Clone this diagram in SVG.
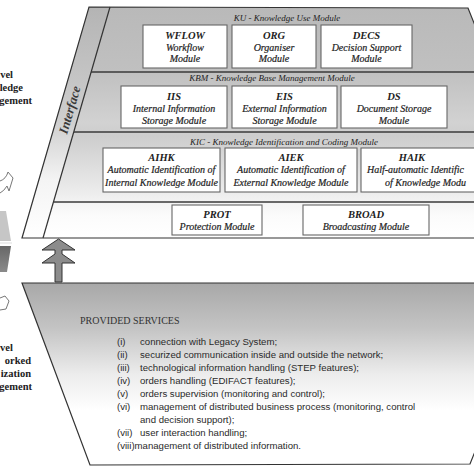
<svg xmlns="http://www.w3.org/2000/svg" width="474" height="474" viewBox="0 0 474 474">
<defs>
<linearGradient id="gTop" x1="0" y1="7" x2="0" y2="238" gradientUnits="userSpaceOnUse">
<stop offset="0" stop-color="#b9b9b9"/>
<stop offset="0.28" stop-color="#c0c0c0"/>
<stop offset="0.5" stop-color="#d2d2d2"/>
<stop offset="0.56" stop-color="#cdcdcd"/>
<stop offset="0.8" stop-color="#ececec"/>
<stop offset="0.9" stop-color="#fbfbfb"/>
<stop offset="1" stop-color="#ffffff"/>
</linearGradient>
<linearGradient id="gIface" x1="0" y1="7" x2="0" y2="238" gradientUnits="userSpaceOnUse">
<stop offset="0" stop-color="#b4b4b4"/>
<stop offset="0.5" stop-color="#cfcfcf"/>
<stop offset="0.75" stop-color="#f4f4f4"/>
<stop offset="1" stop-color="#ffffff"/>
</linearGradient>
<linearGradient id="gBot" x1="0" y1="283" x2="0" y2="465" gradientUnits="userSpaceOnUse">
<stop offset="0" stop-color="#a8a8a8"/>
<stop offset="0.25" stop-color="#c4c4c4"/>
<stop offset="0.5" stop-color="#ececec"/>
<stop offset="0.7" stop-color="#ffffff"/>
<stop offset="1" stop-color="#ffffff"/>
</linearGradient>
<linearGradient id="gDark" x1="0" y1="245" x2="0" y2="272" gradientUnits="userSpaceOnUse">
<stop offset="0" stop-color="#666"/>
<stop offset="1" stop-color="#8a8a8a"/>
</linearGradient>
<style>
.outline{fill:none;stroke:#333;stroke-width:1.2}
.div{stroke:#3a3a3a;stroke-width:1.6}
.box{fill:#fff;stroke:#666;stroke-width:1.1}
.acr{font-family:"Liberation Serif",serif;font-style:italic;font-weight:bold;font-size:10.5px;fill:#222;text-anchor:middle}
.desc{font-family:"Liberation Serif",serif;font-style:italic;font-size:10px;fill:#222;stroke:#222;stroke-width:0.2;text-anchor:middle}
.desc.start{text-anchor:start}
.ttl{font-family:"Liberation Serif",serif;font-style:italic;font-size:9px;fill:#222;text-anchor:middle}
.side{font-family:"Liberation Serif",serif;font-weight:bold;font-size:10.5px;fill:#222}
.svc{font-family:"Liberation Sans",sans-serif;font-size:9.6px;fill:#2a2a2a}
</style>
</defs>

<g id="left-fragments">
<path d="M0,181 Q6,179 8,172 L13,178 L9,191 L7,186 Q4,191 0,193" fill="#fff" stroke="#777" stroke-width="1"/>
<polygon points="0,211 6,211 11,241 0,241" fill="#c6c6c6"/>
<line x1="0" y1="243" x2="12" y2="243" stroke="#ddd" stroke-width="1"/>
<polygon points="0,246 11,246 7,272 0,272" fill="url(#gDark)"/>
<path d="M0,298 L5,296 L9,301 L6,309 L0,310" fill="#fff" stroke="#777" stroke-width="1"/>
<text class="side" x="13" y="78" text-anchor="end">vel</text>
<text class="side" x="23" y="91" text-anchor="end">ledge</text>
<text class="side" x="32" y="104" text-anchor="end">gement</text>
<text class="side" x="0" y="351">vel</text>
<text class="side" x="31" y="364" text-anchor="end">orked</text>
<text class="side" x="31" y="377" text-anchor="end">ization</text>
<text class="side" x="32" y="390" text-anchor="end">gement</text>
</g>

<g id="top-frame">
<polygon points="89,7 468,8 476,28 476,238 22,238" fill="url(#gTop)"/>
<polygon points="89,7 110,7 43,238 22,238" fill="url(#gIface)"/>
<polyline class="outline" points="476,28 468,8 89,7 22,238 476,238"/>
<line class="outline" x1="110" y1="7" x2="43" y2="238"/>
<line class="div" x1="91" y1="72" x2="476" y2="72"/>
<line class="div" x1="74" y1="132" x2="476" y2="132"/>
<line class="div" x1="54" y1="202" x2="476" y2="202"/>
<text transform="translate(70,110) rotate(-73.8)" y="4" text-anchor="middle" font-family="Liberation Serif, serif" font-style="italic" font-weight="bold" font-size="13" fill="#3a3a3a">Interface</text>
</g>

<g id="KU">
<text class="ttl" x="287" y="21">KU - Knowledge Use Module</text>
<g id="WFLOW"><rect class="box" x="143" y="25" width="84" height="43"/><text class="acr" x="185" y="38.5">WFLOW</text><text class="desc" x="185" y="50.5">Workflow</text><text class="desc" x="185" y="62">Module</text></g>
<g id="ORG"><rect class="box" x="232" y="25" width="84" height="43"/><text class="acr" x="274" y="38.5">ORG</text><text class="desc" x="274" y="50.5">Organiser</text><text class="desc" x="274" y="62">Module</text></g>
<g id="DECS"><rect class="box" x="321" y="25" width="91" height="43"/><text class="acr" x="366.5" y="38.5">DECS</text><text class="desc" x="366.5" y="50.5">Decision Support</text><text class="desc" x="366.5" y="62">Module</text></g>
</g>

<g id="KBM">
<text class="ttl" x="272" y="81">KBM - Knowledge Base Management Module</text>
<g id="IIS"><rect class="box" x="121" y="86" width="106" height="42"/><text class="acr" x="174" y="99.5">IIS</text><text class="desc" x="174" y="111.5">Internal Information</text><text class="desc" x="174" y="123.5">Storage Module</text></g>
<g id="EIS"><rect class="box" x="232" y="86" width="105" height="42"/><text class="acr" x="284.5" y="99.5">EIS</text><text class="desc" x="284.5" y="111.5">External Information</text><text class="desc" x="284.5" y="123.5">Storage Module</text></g>
<g id="DS"><rect class="box" x="341" y="86" width="106" height="42"/><text class="acr" x="394" y="99.5">DS</text><text class="desc" x="394" y="111.5">Document Storage</text><text class="desc" x="394" y="123.5">Module</text></g>
</g>

<g id="KIC">
<text class="ttl" x="284" y="144.5">KIC - Knowledge Identification and Coding Module</text>
<g id="AIHK"><rect class="box" x="103" y="148" width="117" height="44"/><text class="acr" x="161.5" y="160.5">AIHK</text><text class="desc" x="161.5" y="173">Automatic Identification of</text><text class="desc" x="161.5" y="185.5">Internal Knowledge Module</text></g>
<g id="AIEK"><rect class="box" x="225" y="148" width="132" height="44"/><text class="acr" x="291" y="160.5">AIEK</text><text class="desc" x="291" y="173">Automatic Identification of</text><text class="desc" x="291" y="185.5">External Knowledge Module</text></g>
<g id="HAIK"><rect class="box" x="361" y="148" width="130" height="44"/><text class="acr" x="412" y="160.5">HAIK</text><text class="desc start" x="367" y="173">Half-automatic Identific</text><text class="desc start" x="385" y="185.5">of Knowledge Modu</text></g>
</g>

<g id="services-row">
<g id="PROT"><rect class="box" x="172" y="205" width="90" height="30"/><text class="acr" x="217" y="217.5">PROT</text><text class="desc" x="217" y="229.5">Protection Module</text></g>
<g id="BROAD"><rect class="box" x="303" y="205" width="126" height="30"/><text class="acr" x="366" y="217.5">BROAD</text><text class="desc" x="366" y="229.5">Broadcasting Module</text></g>
</g>

<g id="connectors">
<polygon points="58.5,239 75,250 62,250 62,254 75,263 62,263 62,282 55,282 55,263 42,263 55,254 55,250 42,250" fill="#8c8c8c" stroke="#333" stroke-width="1"/>
</g>

<g id="provided-services">
<polygon points="22,283 476,283 476,449 470,464 90,465" fill="url(#gBot)"/>
<polyline class="outline" points="476,283 22,283 90,465 470,464 476,449"/>
<text x="80" y="324" font-family="Liberation Serif, serif" font-size="10" fill="#333">PROVIDED SERVICES</text>
<g class="svc">
<text x="117" y="345">(i)</text><text x="140" y="345">connection with Legacy System;</text>
<text x="117" y="358">(ii)</text><text x="140" y="358">securized communication inside and outside the network;</text>
<text x="117" y="371">(iii)</text><text x="140" y="371">technological information handling (STEP features);</text>
<text x="117" y="384">(iv)</text><text x="140" y="384">orders handling (EDIFACT features);</text>
<text x="117" y="397">(v)</text><text x="140" y="397">orders supervision (monitoring and control);</text>
<text x="117" y="410">(vi)</text><text x="140" y="410">management of distributed business process (monitoring, control</text>
<text x="140" y="423">and decision support);</text>
<text x="117" y="436">(vii)</text><text x="140" y="436">user interaction handling;</text>
<text x="117" y="449">(viii)management of distributed information.</text>
</g>
</g>
</svg>
